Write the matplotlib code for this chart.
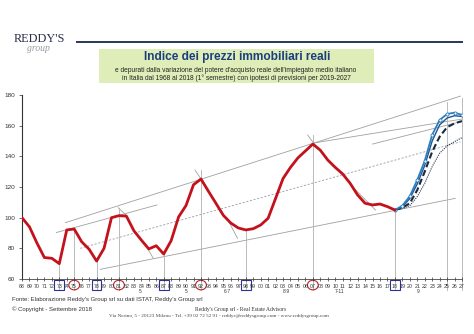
import matplotlib
matplotlib.use("Agg")
import matplotlib.pyplot as plt
from matplotlib.patches import Ellipse, Rectangle

plt.rcParams['font.family'] = ['Liberation Sans', 'DejaVu Sans']

# historical index (1968 - 2018)
years_hist = list(range(1968, 2019))
index_hist = [100, 94, 83.5, 74, 73.5, 70, 92, 92.6, 84.3, 79.4,
              71.7, 80, 100, 101.3, 101, 91.5, 85.4, 79.6, 81.7, 76.3,
              85, 100.5, 108, 121.5, 125.2, 117.2, 109.4, 101.5, 96.5, 93.3,
              92, 92.8, 95.2, 99.6, 112.5, 125.5, 132.8, 139, 143.5, 148,
              144, 137.6, 132.8, 128.5, 122.4, 114.8, 109.4, 108.3, 108.9, 107.2,
              105]

# forecast scenarios (2018 - 2027)
years_fc = list(range(2018, 2028))
fc_high = [105, 107.8, 114, 124.6, 137, 154, 163.7, 167.6, 168.5, 167]
fc_high2 = [105, 107, 112.5, 122, 134, 150, 160.5, 165, 166.5, 166]
fc_mid = [105, 106.5, 109.4, 118, 130, 143, 152.8, 159, 161.5, 163]
fc_low = [105, 106, 107.8, 113.7, 122.4, 133.3, 142, 146.8, 149.6, 152.2]

# trend / channel lines (x0, y0, x1, y1)
trend_lines = [
    (1973.8, 96.7, 2026.8, 179.3),
    (1972.6, 90.3, 1986.1, 108.3),
    (1978.5, 66.3, 2026.1, 112.6),
    (2007.1, 148.7, 2027.9, 165.0),
    (2015.0, 148.0, 2027.7, 163.7),
    (1980.9, 106.5, 1982.0, 101.5),
    (1984.7, 81.0, 1985.6, 73.5),
    (1991.2, 131.0, 1992.1, 124.6),
    (1995.5, 99.6, 1996.9, 86.5),
    (2006.3, 153.9, 2007.3, 147.4),
    (2012.2, 120.7, 2015.4, 105.0),
]
mid_line = (1975.8, 80.0, 2026.8, 149.5)

# vertical markers at turning points (year, top value)
turn_years = [1973, 1975, 1978, 1981, 1987, 1992, 1998, 2007, 2018, 2025, 2027]
turn_tops = [70, 92.6, 71.7, 106.5, 76.3, 131, 92, 154, 105, 175.6, 178]

peak_years = [1975, 1981, 1992, 2007]
trough_years = [1973, 1978, 1987, 1998, 2018]

cycle_labels = ["5", "5", "6-7", "8-9", "7-11", "9"]
cycle_pos = [1983.8, 1990.0, 1995.5, 2003.5, 2010.6, 2021.1]

W, H = 474, 334
fig = plt.figure(figsize=(W / 100, H / 100), dpi=100)
fig.patch.set_facecolor('white')
ax = fig.add_axes([22 / W, 55 / H, 440 / W, 184 / H])

grey = '#a0a0a0'
for x0, y0, x1, y1 in trend_lines:
    ax.plot([x0, x1], [y0, y1], color=grey, lw=0.6, zorder=1)
ax.plot([mid_line[0], mid_line[2]], [mid_line[1], mid_line[3]], color='#8f9cab',
        lw=0.6, dashes=(2.5, 2), zorder=1)

for yr, top in zip(turn_years, turn_tops):
    ax.plot([yr, yr], [53, top], color='#b0b0b0', lw=0.6, zorder=1, clip_on=False)

ax.plot(years_fc, fc_low, color='#26334a', lw=0.8, ls=(0, (1, 1)), zorder=3)
ax.plot(years_fc, fc_mid, color='#1b2940', lw=1.5, dashes=(3, 1.5), zorder=3)
ax.plot(years_fc, fc_high2, color='#1f5591', lw=1.0, zorder=3)
ax.plot(years_fc, fc_high, color='#2b7fbf', lw=1.3, marker='o', ms=2.2,
        mfc='white', mec='#2b7fbf', mew=0.6, zorder=4)
ax.plot(years_hist, index_hist, color='#c3121c', lw=2.0, zorder=5,
        solid_joinstyle='round')

ax.set_xlim(1968, 2027)
ax.set_ylim(60, 180)
ax.set_yticks(range(60, 181, 20))
ax.set_xticks(range(1968, 2028))
ax.set_xticklabels([f"{y % 100:02d}" for y in range(1968, 2028)])
ax.tick_params(axis='x', labelsize=3.8, length=2.5, width=0.5, direction='inout',
               pad=2.5, colors='#333333')
ax.tick_params(axis='y', labelsize=4.6, length=2, width=0.5, pad=3, colors='#333333')
for s in ['top', 'right']:
    ax.spines[s].set_visible(False)
ax.spines['left'].set_linewidth(0.8)
ax.spines['left'].set_color('#333333')
ax.spines['bottom'].set_linewidth(0.6)
ax.spines['bottom'].set_color('#444444')
ax.spines['bottom'].set_linestyle((0, (2, 1)))

xt = ax.get_xaxis_transform()
for yr in peak_years:
    ax.add_patch(Ellipse((yr, -0.033), 1.45, 0.052, transform=xt, fill=False,
                         ec='#b3262a', lw=0.8, clip_on=False))
for yr in trough_years:
    ax.add_patch(Rectangle((yr - 0.65, -0.058), 1.3, 0.05, transform=xt,
                           fill=False, ec='#2c2f96', lw=0.8, clip_on=False))
for lab, x in zip(cycle_labels, cycle_pos):
    ax.text(x, -0.07, lab, transform=xt, fontsize=3.5, ha='center', va='center',
            color='#333333')

# header: logo, rule, title box
fig.text(14 / W, 1 - 39 / H, "REDDY'S", family='Liberation Serif', fontsize=8.8,
         color='#2b2f4c', va='center', ha='left')
fig.text(27 / W, 1 - 48.5 / H, "group", family='Liberation Serif', style='italic',
         fontsize=7, color='#9a9aa6', va='center', ha='left')
fig.add_artist(plt.Line2D([77 / W, 462 / W], [1 - 42 / H, 1 - 42 / H], color='#2a3560',
                          lw=1.4))
fig.add_artist(Rectangle((99 / W, 1 - 83 / H), 275 / W, 34 / H, color='#dfeeb8', lw=0))
fig.text(237 / W, 1 - 57 / H, "Indice dei prezzi immobiliari reali", fontsize=8.6,
         weight='bold', color='#1c3d7e', ha='center', va='center')
fig.text(236 / W, 1 - 70 / H,
         "e depurati dalla variazione del potere d'acquisto reale dell'impiegato medio italiano",
         fontsize=4.8, color='#222222', ha='center', va='center')
fig.text(236 / W, 1 - 78 / H,
         "in Italia dal 1968 al 2018 (1° semestre) con ipotesi di previsioni per 2019-2027",
         fontsize=4.8, color='#222222', ha='center', va='center')

# footer
fig.text(12 / W, 1 - 299 / H,
         "Fonte: Elaborazione Reddy's Group srl su dati ISTAT, Reddy's Group srl",
         fontsize=4.3, color='#333333', va='center')
fig.text(12 / W, 1 - 309 / H, "© Copyright - Settembre 2018", fontsize=4.3,
         color='#333333', va='center')
fig.text(241 / W, 1 - 309 / H, "Reddy's Group srl - Real Estate Advisors",
         family='Liberation Serif', fontsize=4.0, color='#333333', ha='center',
         va='center')
fig.text(219 / W, 1 - 316 / H,
         "Via Nerino, 5 - 20123 Milano - Tel. +39 02 72 52 91 - reddys@reddysgroup.com - www.reddysgroup.com",
         family='Liberation Serif', fontsize=3.7, color='#444444', ha='center',
         va='center')

fig.savefig('out.png', dpi=100)
